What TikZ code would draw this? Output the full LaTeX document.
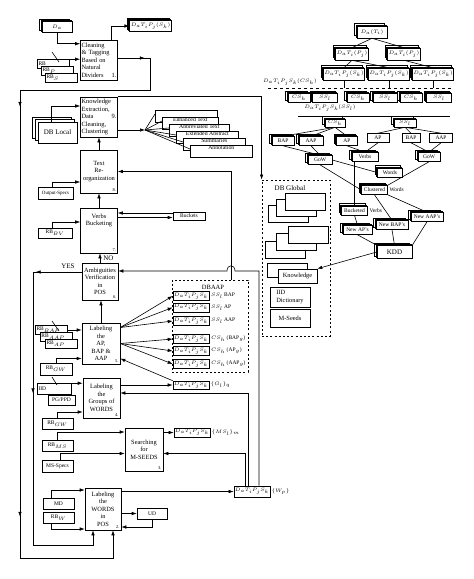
\documentclass[tikz,border=0pt]{standalone}
\usepackage{fontspec}
\setmainfont{Liberation Serif}
\usetikzlibrary{arrows.meta,shadows,positioning,decorations.markings}

\tikzset{
  proc/.style={draw, fill=white, minimum width=37, inner sep=1pt, align=center,
    font=\fontsize{6.4}{7.5}\selectfont},
  num/.style={anchor=south east, inner sep=1.5pt, font=\fontsize{4.5}{5}\selectfont},
  dat/.style={draw, fill=white, inner sep=1pt, minimum height=9,
    font=\fontsize{5.5}{6.5}\selectfont},
  stk/.style={dat, copy shadow={shadow xshift=-2.4pt, shadow yshift=2.4pt},
    copy shadow={shadow xshift=-1.2pt, shadow yshift=1.2pt}},
  bigstk/.style={dat, copy shadow={shadow xshift=-6pt, shadow yshift=5pt},
    copy shadow={shadow xshift=-3pt, shadow yshift=2.5pt}},
  txt/.style={inner sep=0.5pt, font=\fontsize{5.5}{6.5}\selectfont},
  lab/.style={inner sep=1pt, font=\fontsize{7}{8}\selectfont},
  blank/.style={draw, fill=white, minimum width=40, minimum height=17,
    font=\fontsize{6.4}{7.4}\selectfont},
  dotbox/.style={draw, dash pattern=on 2pt off 2.2pt, line width=0.8pt, inner sep=0pt},
  arr/.style={-{Latex[length=5pt,width=3.5pt]}},
  amid/.style={postaction={decorate, decoration={markings,
    mark=at position #1 with {\arrow{Latex[length=5pt,width=3.5pt]}}}}},
}

\begin{document}
\begin{tikzpicture}[x=1pt, y=-1pt, line width=0.6pt]
\useasboundingbox (0,0) rectangle (474,579);

% main column
\node[proc, minimum height=40, align=left, text width=35] (clean) at (99,60)
  {Cleaning\\ \& Tagging\\ Based on\\ Natural\\ Dividers \hfill 1.};
\node[proc, minimum height=40, align=left, text width=35] (ke) at (99,117)
  {Knowledge\\ Extraction,\\ Data \hfill 9.\\ Cleaning,\\ Clustering};
\node[proc, minimum height=43, label={[num]south east:8.}] (tro) at (99,171.5)
  {Text\\ Re-\\ organization};
\node[proc, minimum height=45, label={[num]south east:7.}] (vb) at (99,230.5)
  {Verbs\\ Bucketing\\[14pt]\mbox{}};
\node[proc, minimum height=37, minimum width=36, label={[num]south east:6.}] (amb) at (100,281.5)
  {Ambiguities\\ Verification\\ in\\ POS};
\node[proc, minimum height=41, minimum width=38, label={[num]south east:5.}] (lap) at (101,343.5)
  {Labeling\\ the\\ AP,\\ BAP \&\\ AAP};
\node[proc, minimum height=40, label={[num]south east:4.}] (lgw) at (101.5,398)
  {Labeling\\ the\\ Groups of\\ WORDS};
\node[proc, minimum height=43, minimum width=38, label={[num]south east:3.}] (sms) at (144,449.5)
  {Searching\\ for\\ M-SEEDS};
\node[proc, minimum height=42, minimum width=36, label={[num]south east:2.}] (lwp) at (103,509)
  {Labeling\\ the\\ WORDS\\ in\\ POS};

% inputs on the left
\node[stk, minimum width=30, minimum height=11] (da) at (57,27) {$D_a$};
\node[dat, minimum width=32, text width=29, align=left] (rb1) at (53,64) {RB};
\node[dat, minimum width=32, text width=29, align=left] (rb2) at (57,71) {RB$_P$};
\node[dat, minimum width=32, text width=29, align=left] (rb3) at (61,78) {RB$_S$};
\draw (52,52) -- (59,62);
\node[stk, minimum width=35, minimum height=11] (out) at (150.5,26) {$D_aT_iP_j(S_k)$};
\node[bigstk, minimum width=39, minimum height=21, font=\fontsize{7}{8}\selectfont] (dbl) at (57.5,132.5) {DB Local};
\node[dat, minimum width=35, minimum height=12, font=\fontsize{5}{6}\selectfont] (osp) at (55.5,193) {Output-Specs};
\node[dat, minimum width=34, minimum height=10] (rbbv) at (55,233) {RB$_{BV}$};
\node[dat, minimum width=32, text width=29, align=left] (rbap1) at (51,330) {RB$_{BAP}$};
\node[dat, minimum width=32, text width=29, align=left] (rbap2) at (56,337) {RB$_{AAP}$};
\node[dat, minimum width=32, text width=29, align=left] (rbap3) at (61,344) {RB$_{AP}$};
\draw (52,321) -- (59,331);
\node[dat, minimum width=32, minimum height=12] (rbgw1) at (56,369) {RB$_{GW}$};
\node[dat, minimum width=34, minimum height=11, text width=31, align=left] (iid) at (54,389) {IID};
\node[dat, minimum width=27, minimum height=10] (pg) at (61.5,400) {PG/PPD};
\draw (52,377) -- (57,385);
\node[dat, minimum width=31, minimum height=11] (rbgw2) at (57.5,423.5) {RB$_{GW}$};
\node[dat, minimum width=31, minimum height=11] (rbms) at (57.5,445.5) {RB$_{MS}$};
\node[dat, minimum width=31, minimum height=12] (mss) at (57.5,466) {MS-Specs};
\node[dat, minimum width=31, minimum height=11] (md) at (58.5,503.5) {MD};
\node[dat, minimum width=31, minimum height=11] (rbw) at (58.5,517.5) {RB$_W$};

% outputs
\node[dat, minimum width=30, minimum height=11] (ud) at (152,513.5) {UD};
\node[dat, minimum width=29, minimum height=11] (wp) at (252,491.5) {$D_aT_iP_jS_k$};
\node[txt, right=0.5pt of wp] (wpt) {$\{W_p\}$};
\node[dat, minimum width=29, minimum height=8] (gq) at (191,385) {$D_aT_iP_jS_k$};
\node[txt, right=0.5pt of gq] (gqt) {$\{G_l\}_q$};
\node[dat, minimum width=30, minimum height=9] (msm) at (192,432.5) {$D_aT_iP_jS_k$};
\node[txt, right=0.5pt of msm] (msmt) {$\{MS_l\}_m$};
\node[dat, minimum width=32, minimum height=8] (buck) at (189,216) {Buckets};

% text products of step 9
\foreach \n/\x/\y/\w/\t in {c0/155/110/62/{}, c1/162/117/56/Enhanced Text,
    c2/169/124/60/Abbreviated Text, c3/176/131/62/Extended Abstract,
    c4/183/138/62/Summaries, c5/190/145/62/Annotation}
  \node[dat, anchor=north west, minimum width=\w, text height=3.5pt, text depth=6.5pt,
    font=\fontsize{5.8}{6.5}\selectfont] (\n) at (\x,\y) {\t};
\coordinate (fan) at (145,130);
\foreach \n in {c0,c1,c2,c3,c4,c5}
  \draw (fan) -- ([yshift=-4pt]\n.north west);

% DBAAP
\node[dotbox, minimum width=76, minimum height=92] (dbaap) at (210,326) {};
\node[lab, font=\fontsize{6.5}{7}\selectfont] at (213,287) {DBAAP};
\foreach \i/\y/\t in {1/296/{$SS_l$ BAP}, 2/307.5/{$SS_l$ AP}, 3/321/{$SS_l$ AAP},
    4/339/{$CS_h$ (BAP$_g$)}, 5/351/{$CS_h$ (AP$_g$)}, 6/364/{$CS_h$ (AAP$_g$)}}{
  \node[dat, minimum width=32] (dr\i) at (191,\y) {$D_aT_iP_jS_k$};
  \node[txt, right=1pt of dr\i] {\t};
}

% DB Global
\node[dotbox, minimum width=68, minimum height=156] (dbg) at (296,258) {};
\node[lab, font=\fontsize{7}{8}\selectfont] at (290,188) {DB Global};
\node[blank] (g1a) at (288,214) {};
\node[blank] (g1b) at (296,208) {};
\node[blank] (g1c) at (305,201.5) {};
\node[blank] (g2a) at (285,249.5) {};
\node[blank] (g2b) at (296,242) {};
\node[blank] (g2c) at (308,235) {};
\node[blank, minimum height=14] (kb) at (287,270) {};
\node[blank, minimum height=14, minimum width=39] (knw) at (297.5,276) {Knowledge};
\node[blank, minimum height=18, align=left] (iidd) at (290,297) {IID\\ Dictionary};
\node[blank, minimum height=18] (mseed) at (290,318) {M-Seeds};

% tree on the right
\node[stk, minimum width=30, minimum height=12] (dti) at (372,32) {$D_a(T_i)$};
\node[stk, minimum width=30, minimum height=12] (tp1) at (352,54) {$D_aT_i(P_j)$};
\node[stk, minimum width=32, minimum height=12] (tp2) at (404,54) {$D_aT_i(P_j)$};
\node[stk, minimum width=37, minimum height=12] (s1) at (344,74) {$D_aT_iP_j(S_k)$};
\node[stk, minimum width=37, minimum height=12] (s2) at (389,74) {$D_aT_iP_j(S_k)$};
\node[stk, minimum width=38, minimum height=12] (s3) at (433,74) {$D_aT_iP_j(S_k)$};
\node[txt] (cslab) at (290,82) {$D_aT_iP_jS_k(CS_h)$};
\coordinate (dshL) at (268,88);
\coordinate (dshR) at (452,88);
\foreach \n/\x/\w/\t in {cs1/299/22/CS_h, ss1/325/25/SS_l, cs2/358/22/CS_h,
    ss2/385/24/SS_l, cs3/411/22/CS_h, ss3/439/25/SS_l}
  \node[stk, minimum width=\w] (\n) at (\x,98) {$\t$};
\node[txt] (sslab) at (330,108) {$D_aT_iP_jS_k(SS_l)$};
\coordinate (sepL) at (298,116);
\coordinate (sepR) at (450,116);
\node[stk, minimum width=20, minimum height=8] (csb) at (335,123) {$CS_h$};
\node[stk, minimum width=22, minimum height=8] (ssb) at (405,123) {$SS_l$};
\node[stk, minimum width=22] (bap1) at (283,141) {BAP};
\node[stk, minimum width=24] (aap1) at (311,141) {AAP};
\node[stk, minimum width=21] (ap1) at (347,141) {AP};
\node[dat, minimum width=22] (ap2) at (378,138) {AP};
\node[dat, minimum width=18] (bap2) at (411,138) {BAP};
\node[dat, minimum width=23] (aap2) at (441,138) {AAP};
\node[stk, minimum width=24] (gow1) at (320,160) {GoW};
\node[stk, minimum width=26] (verbs) at (365,157) {Verbs};
\node[stk, minimum width=22] (gow2) at (429,157) {GoW};
\node[stk, minimum width=25] (words) at (390,172.5) {Words};
\node[stk, minimum width=26] (clw) at (374.5,190) {Clustered};
\node[txt, right=1pt of clw] (clwt) {Words};
\node[stk, minimum width=26] (bv) at (354.5,210.5) {Bucketed};
\node[txt, right=1pt of bv] (bvt) {Verbs};
\node[stk, minimum width=29] (nap) at (357.5,230) {New AP's};
\node[stk, minimum width=32] (nbap) at (392,225) {New BAP's};
\node[stk, minimum width=32] (naap) at (427,217) {New AAP's};
\node[stk, minimum width=35, minimum height=13, font=\fontsize{7}{8}\selectfont] (kdd) at (394.5,252) {KDD};

\draw (dti.south) -- (tp1.north);
\draw (dti.south) -- (tp2.north);
\draw (tp1.south) -- (s1.north);
\draw (tp1.south) -- (s2.north);
\draw (tp2.south) -- (s3.north);
\draw[dashed] (dshL) -- (dshR);
\foreach \n in {s1,s2,s3}
  \draw (\n.south) -- (\n.south |- dshL);
\draw (sepL) -- (sepR);
\foreach \n in {bap1,aap1,ap1}
  \draw (csb.south) -- (\n.north);
\foreach \n in {ap2,bap2,aap2}
  \draw (ssb.south) -- (\n.north);
\draw (bap1.south) -- (gow1.north);
\draw (aap1.south) -- (gow1.north);
\draw (ap1.south) -- (verbs.north);
\draw (ap2.south) -- (verbs.north);
\draw (bap2.south) -- (gow2.north);
\draw (aap2.south) -- (gow2.north);
\draw (gow1.east) -- (words.west);
\draw (gow1.south) -- (clw.west);
\draw (gow2.south) -- (clw.north east);
\draw (bv.north) -- (bv.north |- verbs.south);
\draw (clw.south) -- (nbap.north);
\draw (clw.south east) -- (naap.north);
\draw (bv.south) -- (nap.north);
\draw (nap.south) -- (kdd.north west);
\draw (nbap.south) -- (kdd.north);
\draw (naap.south) -- (kdd.north east);
\draw[arr] (kdd.west) -- (knw.north east);

% connectors of the process
\draw[arr] (da.south) |- ([yshift=-4pt]clean.north west);
\draw[arr] (rb1.north east) -- (clean.west |- rb1.north east);
\draw[arr] ([xshift=12pt]clean.north) |- (out.west);
\coordinate (lpA) at (150,90);
\coordinate (lpB) at (20,558);
\coordinate (lpC) at (33,545);
\draw[arr, amid=27pt, amid=211pt, amid=621pt]
  ([yshift=2pt]clean.east) -| (lpA) -| (lpB) -| ([xshift=10pt]lwp.south);
\draw[arr, amid=46pt, amid=170pt]
  ([yshift=9.5pt]amb.west) -| (lpC) -| ([xshift=-10pt]lwp.south);
\node[lab] (yes) at (68,266) {YES};

\draw[arr] (ke.north east) -| (dbg.north west);
\draw[arr] ([yshift=-13pt]ke.east) -- (fan);
\draw[arr] ([xshift=-6pt]dbl.north) |- ([yshift=11pt]ke.west);
\draw[arr] (tro.north) -- (tro.north |- ke.south);
\draw[arr] ([xshift=-3pt]osp.north) |- ([yshift=-10.5pt]tro.west);
\draw[arr] (vb.north) -- (vb.north |- tro.south);
\draw[arr] ([xshift=-3pt]rbbv.north) |- ([yshift=8.5pt]vb.west);
\coordinate (bk1) at ([yshift=3pt]buck.west);
\coordinate (bk2) at ([yshift=-1.5pt]buck.west);
\draw[arr] (bk1) -- (bk1 -| vb.east);
\draw[arr] (bk2 -| vb.east) -- (bk2);
\draw[arr] (amb.north) -- (amb.north |- vb.south) node[midway, right=2pt, lab] {NO};
\draw[arr] (lap.north) -- (lap.north |- amb.south);
\draw[arr] (rbap1.east) -- (lap.west |- rbap1.east);
\draw[arr] (rbgw1.north) |- ([yshift=-15pt]lap.west);
\coordinate (lfA) at ([yshift=16pt]lap.east);
\coordinate (lfB) at (lap.east);
\foreach \i in {1,2,3}
  \draw[arr] (lfA) -- (dr\i.west);
\foreach \i in {4,5,6}
  \draw[arr] (lfB) -- (dr\i.west);
\coordinate (hump) at (231,271);
\draw[arr] (hump |- dbaap.north) |- (tro.east);
\draw[arr] (gq.north west) -- ([yshift=-15pt]lap.east);
\draw[arr] (lgw.east |- gq.west) -- (gq.west);
\draw[arr] (iid.north east) -- (lgw.west |- iid.north east);
\draw[arr] (rbgw2.north) |- ([yshift=-14pt]lgw.west);
\draw[arr] (sms.east |- msm.west) -- (msm.west);
\draw[arr] (rbms.north) |- ([yshift=17.5pt]sms.west);
\draw[arr] ([xshift=3pt]mss.north) |- ([yshift=-4pt]sms.west);
\draw[arr] ([xshift=-7pt]md.north) |- ([yshift=19pt]lwp.west);
\draw[arr] ([xshift=-7pt]rbw.south) |- ([yshift=-20pt]lwp.west);
\draw[arr] (lwp.east |- ud.west) -- (ud.west);
\draw[arr] (ud.south) |- ([yshift=-18pt]lwp.east);
\draw[arr] (lwp.east |- wp.west) -- (wp.west);
\draw[arr] ([xshift=-7pt]wp.north) |- ([yshift=-4pt]sms.east);
\draw[arr] ([xshift=-4pt]wp.north) |- ([yshift=5pt]lgw.east);
\draw[arr] ([xshift=7pt]wp.north) |- ([xshift=4pt]hump)
  .. controls +(0,-7) and +(0,-7) .. ([xshift=-4pt]hump) -- (amb.east |- hump);
\end{tikzpicture}
\end{document}
